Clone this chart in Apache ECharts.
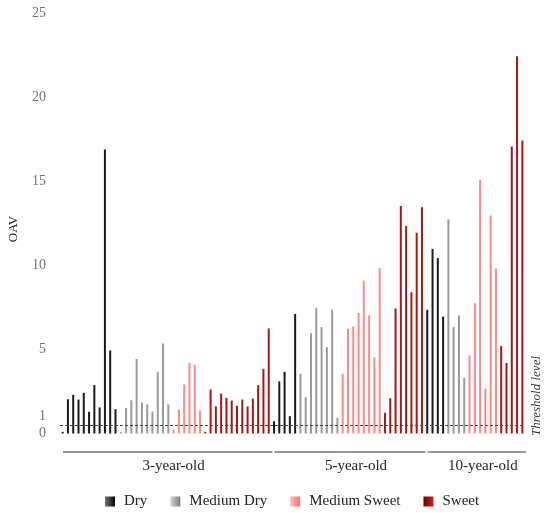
<!DOCTYPE html>
<html>
<head>
<meta charset="utf-8">
<script src="https://cdn.jsdelivr.net/npm/echarts@6/dist/echarts.min.js"></script>
<style>html,body{margin:0;padding:0;background:#fff;}#c{width:550px;height:513px;}</style>
</head>
<body>
<div id="c"></div>
<script>
// ---- data (OAV per wine sample) ----
const typeNames = ['Dry', 'Medium Dry', 'Medium Sweet', 'Sweet'];
const ageGroups = ['3-year-old', '5-year-old', '10-year-old'];

const dry3  = [0.1, 2.04, 2.30, 2.02, 2.42, 1.29, 2.88, 1.55, 16.9, 4.94, 1.45];
const mdry3 = [0.1, 1.51, 1.98, 4.44, 1.85, 1.73, 1.31, 3.65, 5.36, 1.73];
const msw3  = [0.2, 1.41, 2.92, 4.21, 4.09, 1.37];
const sw3   = [0.1, 2.62, 1.61, 2.38, 2.12, 1.96, 1.65, 2.02, 1.61, 2.08, 2.88, 3.85, 6.25];

const dry5  = [0.73, 3.1, 3.67, 1.03, 7.12];
const mdry5 = [3.55, 2.16, 5.97, 7.48, 6.33, 5.14, 7.36, 0.93];
const msw5  = [3.55, 6.23, 6.37, 7.18, 9.1, 7.04, 4.52, 9.84];
const sw5   = [1.23, 2.1, 7.44, 13.55, 12.36, 8.41, 11.95, 13.47];

const dry10  = [7.36, 10.99, 10.44, 6.96];
const mdry10 = [12.74, 6.33, 7.02, 3.31];
const msw10  = [4.64, 7.76, 15.1, 2.66, 12.98, 9.82];
const sw10   = [5.2, 4.2, 17.08, 22.46, 17.44];

const yTickLabels = [0, 1, 5, 10, 15, 20, 25];
const thresholdValue = 0.5;

// ---- build ----
const byAge = [
  [dry3, mdry3, msw3, sw3],
  [dry5, mdry5, msw5, sw5],
  [dry10, mdry10, msw10, sw10]
];
const categories = [];
const seriesData = [[], [], [], []];
const groupRanges = [];
byAge.forEach((sets, a) => {
  const start = categories.length;
  sets.forEach((vals, t) => {
    vals.forEach((v, k) => {
      categories.push(ageGroups[a] + ' ' + typeNames[t] + ' ' + (k + 1));
      for (let s = 0; s < 4; s++) seriesData[s].push(s === t ? v : '-');
    });
  });
  groupRanges.push([start, categories.length - 1, 0]);
});

const font = 'Liberation Serif';
const barColors = ['#1a1a1a', '#9a9a9a', '#ff8888', '#a51616'];
const lg = (a, b) => new echarts.graphic.LinearGradient(0, 0, 1, 0, [{offset: 0, color: a}, {offset: 1, color: b}]);
const iconColors = [lg('#777777', '#000000'), lg('#d6d6d6', '#7a7a7a'), lg('#ffc0c0', '#ff6a6a'), lg('#6e0000', '#d02020')];

const chart = echarts.init(document.getElementById('c'));
const series = typeNames.map((n, i) => ({
  name: n,
  type: 'bar',
  data: seriesData[i],
  barWidth: 2,
  barGap: '-100%',
  itemStyle: {color: barColors[i]},
  silent: true,
  markLine: i === 0 ? {
    symbol: 'none',
    silent: true,
    label: {show: false},
    lineStyle: {type: [3, 2], color: '#444', width: 1},
    data: [{yAxis: thresholdValue}]
  } : undefined
}));
series.push({
  type: 'custom',
  name: 'groups',
  data: groupRanges,
  encode: {x: [0, 1], y: 2},
  clip: false,
  silent: true,
  renderItem: function (params, api) {
    const s = api.coord([api.value(0), 0]);
    const e = api.coord([api.value(1), 0]);
    const bw = api.size([1, 0])[0];
    const x1 = s[0] - bw / 2 + 3;
    const x2 = e[0] + bw / 2 + 1;
    const y = s[1] + 18.5;
    return {
      type: 'group',
      children: [
        {type: 'line', shape: {x1: x1, y1: y, x2: x2, y2: y}, style: {stroke: '#777', lineWidth: 1.4}},
        {type: 'text', x: (x1 + x2) / 2 + 6, y: y + 14, style: {text: ageGroups[params.dataIndex], fill: '#222', font: '15px "' + font + '"', textAlign: 'center', textVerticalAlign: 'middle'}}
      ]
    };
  }
});

chart.setOption({
  animation: false,
  backgroundColor: '#fff',
  grid: {left: 60, right: 25, top: 13.5, bottom: 79.5, containLabel: false},
  xAxis: {
    type: 'category',
    data: categories,
    boundaryGap: true,
    axisLine: {show: false},
    axisTick: {show: false},
    axisLabel: {show: false},
    splitLine: {show: false}
  },
  yAxis: {
    type: 'value',
    min: 0, max: 25, interval: 1,
    axisLine: {show: false},
    axisTick: {show: false},
    splitLine: {show: false},
    axisLabel: {
      margin: 14,
      color: '#707070',
      fontFamily: font,
      fontSize: 14,
      formatter: v => yTickLabels.indexOf(v) >= 0 ? String(v) : ''
    }
  },
  legend: {
    top: 489,
    left: 100,
    itemWidth: 10,
    itemHeight: 10,
    itemGap: 23,
    icon: 'rect',
    textStyle: {fontFamily: font, fontSize: 15, color: '#222', padding: [0, 0, 0, 4]},
    data: typeNames.map((n, i) => ({name: n, itemStyle: {color: iconColors[i]}}))
  },
  graphic: [
    {type: 'text', x: 14, y: 229, rotation: Math.PI / 2, silent: true,
     style: {text: 'OAV', fill: '#222', font: '13px "' + font + '"', textAlign: 'center', textVerticalAlign: 'middle'}},
    {type: 'text', x: 537, y: 396, rotation: Math.PI / 2, silent: true,
     style: {text: 'Threshold level', fill: '#333', font: 'italic 13px "' + font + '"', textAlign: 'center', textVerticalAlign: 'middle'}}
  ],
  series: series
});
</script>
</body>
</html>
